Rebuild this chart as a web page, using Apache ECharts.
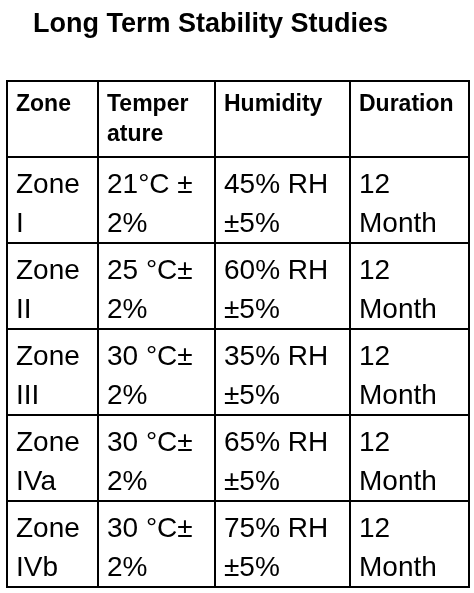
<!DOCTYPE html>
<html><head><meta charset="utf-8">
<script src="https://cdn.jsdelivr.net/npm/echarts@6/dist/echarts.min.js"></script>
<style>html,body{margin:0;padding:0;background:#fff}#c{width:474px;height:593px}</style>
</head><body><div id="c"></div>
<script>
const headers = ["Zone", "Temper\nature", "Humidity", "Duration"];
const zones = ["Zone\nI", "Zone\nII", "Zone\nIII", "Zone\nIVa", "Zone\nIVb"];
const temperatures = ["21°C ±\n2%", "25 °C±\n2%", "30 °C±\n2%", "30 °C±\n2%", "30 °C±\n2%"];
const humidities = ["45% RH\n±5%", "60% RH\n±5%", "35% RH\n±5%", "65% RH\n±5%", "75% RH\n±5%"];
const durations = ["12\nMonth", "12\nMonth", "12\nMonth", "12\nMonth", "12\nMonth"];

// layout (axis units == px)
const colEdges = [0, 91, 208, 343, 462];
const rowEdges = [0, 76, 162, 248, 334, 420, 506];

const cells = [];
headers.forEach((h, c) => cells.push([c, 0, h, 1]));
[zones, temperatures, humidities, durations].forEach((col, c) =>
  col.forEach((v, r) => cells.push([c, r + 1, v, 0])));

const chart = echarts.init(document.getElementById('c'), null, {renderer: 'canvas'});
chart.setOption({
  animation: false,
  title: {text: 'Long Term Stability Studies', left: 28, top: 6,
    textStyle: {fontFamily: 'Liberation Sans, Arial', fontSize: 27, fontWeight: 'bold', color: '#000'}},
  grid: {left: 7, top: 81, width: 462, height: 506},
  xAxis: {type: 'value', min: 0, max: 462, show: false},
  yAxis: {type: 'value', min: 0, max: 506, inverse: true, show: false},
  series: [{
    type: 'custom',
    data: cells,
    renderItem: function (params, api) {
      const c = api.value(0), r = api.value(1);
      const p0 = api.coord([colEdges[c], rowEdges[r]]);
      const p1 = api.coord([colEdges[c + 1], rowEdges[r + 1]]);
      const header = cells[params.dataIndex][3] === 1;
      const txt = cells[params.dataIndex][2];
      return {
        type: 'group',
        children: [
          {type: 'rect', shape: {x: p0[0], y: p0[1], width: p1[0] - p0[0], height: p1[1] - p0[1]},
            style: {fill: '#fff', stroke: '#000', lineWidth: 2}},
          {type: 'text', x: p0[0] + 9, y: p0[1] + (header ? 9 : 9),
            style: {text: txt, fill: '#000',
              font: (header ? 'bold 23px' : '28px') + ' "Liberation Sans", Arial',
              lineHeight: header ? 30 : 39, verticalAlign: 'top'}}
        ]
      };
    }
  }]
});
</script></body></html>
